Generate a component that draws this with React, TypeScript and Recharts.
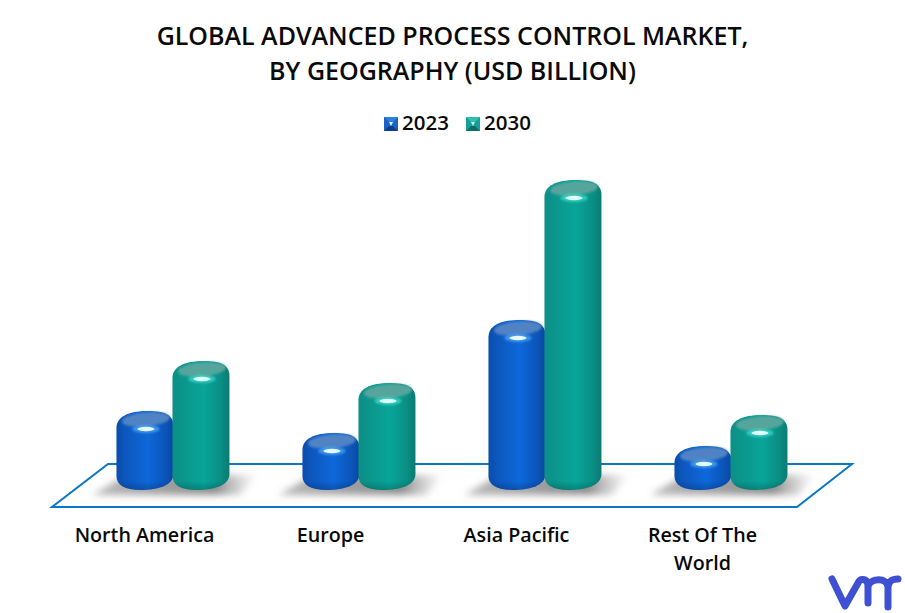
import React from "react";
import { BarChart, Bar, XAxis, YAxis, Legend } from "recharts";

const titleLines = ["GLOBAL ADVANCED PROCESS CONTROL MARKET,", "BY GEOGRAPHY (USD BILLION)"];
const categories = ["North America", "Europe", "Asia Pacific", "Rest Of The World"];
const values2023 = [0.79, 0.57, 1.7, 0.44];
const values2030 = [1.29, 1.07, 3.1, 0.75];
const rows = categories.map((name, i) => ({ name, y2023: values2023[i], y2030: values2030[i] }));

const FONT = "'Open Sans', sans-serif";

const palette: Record<string, { cap: string; halo: string; glow: string }> = {
  blue: { cap: "#4f83c4", halo: "#59b8ff", glow: "#e6f8ff" },
  teal: { cap: "#57a59d", halo: "#4fe8da", glow: "#ddfffa" },
};

function Cylinder({ x, y, width: w, height: h, tone, shadow }: any) {
  const c = palette[tone];
  const shadeId = `shade-${tone}-${Math.round(x)}`;
  const body = `M${x},${y + 17} C${x},${y + 6} ${x + w * 0.2},${y} ${x + w * 0.55},${y}
    C${x + w * 0.85},${y} ${x + w},${y + 4} ${x + w},${y + 15}
    L${x + w},${y + h - 16} C${x + w},${y + h - 5} ${x + w * 0.75},${y + h} ${x + w * 0.42},${y + h}
    C${x + w * 0.15},${y + h} ${x},${y + h - 5} ${x},${y + h - 14} Z`;
  return (
    <g>
      <defs>
        <linearGradient id={shadeId} x1="0" x2="0" y1="0" y2="1">
          <stop offset={1 - 9 / h} stopColor="#000" stopOpacity={0} />
          <stop offset="1" stopColor="#000" stopOpacity={0.2} />
        </linearGradient>
      </defs>
      {shadow && (
        <polygon
          points={`${x - 24},${y + h + 5} ${x + 10},${y + h - 15} ${x + 2 * w + 26},${y + h - 15} ${x + 2 * w + 10},${y + h + 5}`}
          fill="url(#shadowFade)"
          filter="url(#soft3)"
        />
      )}
      <path d={body} fill={`url(#body-${tone})`} />
      <path d={body} fill={`url(#${shadeId})`} />
      <ellipse
        cx={x + w / 2 + 1}
        cy={y + 8.5}
        rx={w * 0.42}
        ry={7}
        fill={c.cap}
        transform={`rotate(-5 ${x + w / 2} ${y + 9})`}
        filter="url(#soft1)"
      />
      <ellipse cx={x + w / 2 + 1} cy={y + 18} rx={w * 0.24} ry={4} fill={c.halo} opacity={0.6} filter="url(#soft1)" />
      <ellipse cx={x + w / 2 + 1} cy={y + 18} rx={w * 0.15} ry={2.2} fill={c.glow} filter="url(#soft05)" />
    </g>
  );
}

function CategoryTick({ x, y, payload, shift }: any) {
  const words = String(payload.value).split(" ");
  const lines = String(payload.value).length > 14 ? [words.slice(0, -1).join(" "), words[words.length - 1]] : [payload.value];
  return (
    <text x={x - shift} y={y + 46} textAnchor="middle" fontFamily={FONT} fontWeight={600} fontSize={19.7} fill="#0a0a0a">
      {lines.map((l: string, i: number) => (
        <tspan key={l} x={x - shift} dy={i === 0 ? 0 : 28}>
          {l}
        </tspan>
      ))}
    </text>
  );
}

function LegendBox({ payload }: any) {
  return (
    <div style={{ position: "absolute", left: 0, top: 0, width: 905, height: 0 }}>
      {(payload || []).map((item: any, i: number) => {
        const left = 384 + i * 82;
        const tone = i === 0 ? ["#1c62c4", "#0b3f8e", "#2f7fe0"] : ["#17a196", "#0b6f66", "#2cc0b2"];
        return (
          <div key={item.value} style={{ position: "absolute", left, top: 108, height: 28, display: "flex", alignItems: "center" }}>
            <svg width={14} height={14} style={{ marginRight: 4, marginTop: 3 }}>
              <rect width={14} height={14} fill={tone[0]} />
              <polygon points="0,0 14,0 9,5 5,5" fill={tone[2]} />
              <polygon points="0,14 14,14 9,9 5,9" fill={tone[1]} />
              <polygon points="5,5 9,5 7,9" fill="#cfe" />
            </svg>
            <span style={{ fontFamily: FONT, fontWeight: 600, fontSize: 20.5, color: "#0a0a0a", lineHeight: "28px" }}>{item.value}</span>
          </div>
        );
      })}
    </div>
  );
}

export default function App() {
  return (
    <div style={{ position: "absolute", left: 0, top: 0, width: 905, height: 613, background: "#fff", overflow: "hidden" }}>
      <div
        style={{
          position: "absolute",
          top: 18,
          left: 0,
          width: 905,
          textAlign: "center",
          fontFamily: FONT,
          fontWeight: 600,
          fontSize: 25,
          lineHeight: "35px",
          color: "#0a0a0a",
        }}
      >
        {titleLines.map((l) => (
          <div key={l}>{l}</div>
        ))}
      </div>
      <BarChart
        width={905}
        height={613}
        data={rows}
        margin={{ top: 180, right: 81, bottom: 63, left: 80 }}
        barCategoryGap="19.6%"
        barGap={-1}
      >
        <defs>
          <linearGradient id="body-blue" x1="0" x2="1" y1="0" y2="0">
            <stop offset="0" stopColor="#0a4cab" />
            <stop offset="0.15" stopColor="#0c57bd" />
            <stop offset="0.55" stopColor="#0e68da" />
            <stop offset="0.85" stopColor="#0b55ba" />
            <stop offset="1" stopColor="#0a47a0" />
          </linearGradient>
          <linearGradient id="body-teal" x1="0" x2="1" y1="0" y2="0">
            <stop offset="0" stopColor="#0c8f86" />
            <stop offset="0.2" stopColor="#0b968c" />
            <stop offset="0.55" stopColor="#08a59a" />
            <stop offset="0.85" stopColor="#0a8e84" />
            <stop offset="1" stopColor="#0a7b73" />
          </linearGradient>
          <linearGradient id="shadowFade" x1="0" x2="1" y1="0" y2="0">
            <stop offset="0" stopColor="#666" stopOpacity={0.45} />
            <stop offset="0.75" stopColor="#666" stopOpacity={0.75} />
            <stop offset="1" stopColor="#999" stopOpacity={0.05} />
          </linearGradient>
          <filter id="soft05" x="-30%" y="-60%" width="160%" height="220%">
            <feGaussianBlur stdDeviation="0.6" />
          </filter>
          <filter id="soft1" x="-30%" y="-60%" width="160%" height="220%">
            <feGaussianBlur stdDeviation="1" />
          </filter>
          <filter id="soft3" x="-20%" y="-60%" width="140%" height="220%">
            <feGaussianBlur stdDeviation="3.5" />
          </filter>
        </defs>
        <polygon points="52,507 797,507 852,464 108,464" fill="none" stroke="#0b76c6" strokeWidth={2} />
        <XAxis dataKey="name" axisLine={false} tickLine={false} tick={<CategoryTick shift={28.5} />} height={60} interval={0} tickMargin={0} />
        <YAxis hide domain={[0, 3.1]} />
        <Legend content={<LegendBox />} wrapperStyle={{ position: "absolute", top: 0, left: 0, height: 0, width: 0 }} />
        <Bar dataKey="y2023" name="2023" fill="#0e68da" isAnimationActive={false} shape={(p: any) => <Cylinder {...p} tone="blue" shadow />} />
        <Bar dataKey="y2030" name="2030" fill="#08a59a" isAnimationActive={false} shape={(p: any) => <Cylinder {...p} tone="teal" />} />
        <path
          d="M832,579 L845,606 L858,583 C860,578 867,578 868,585 L868,603 M868,586 C871,578 887,577 888,587 L888,607 M888,587 C889,580 893,579 898,579"
          fill="none"
          stroke="#3f50d2"
          strokeWidth={7}
          strokeLinecap="round"
          strokeLinejoin="round"
        />
      </BarChart>
    </div>
  );
}
